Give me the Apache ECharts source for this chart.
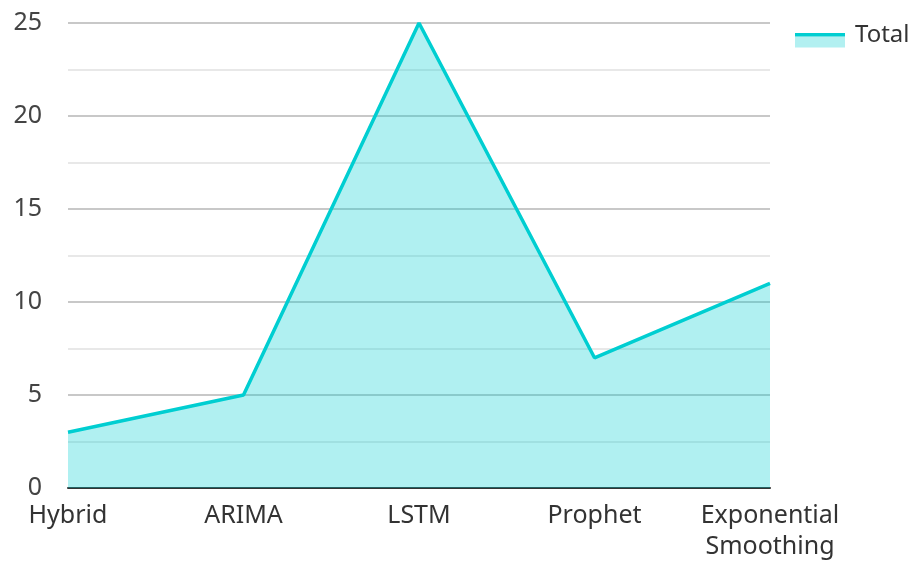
<!DOCTYPE html>
<html>
<head>
<meta charset="utf-8">
<script src="https://cdn.jsdelivr.net/npm/echarts@6/dist/echarts.min.js"></script>
<style>
  html, body { margin: 0; padding: 0; background: #fff; }
  #chart { width: 911px; height: 562px; }
</style>
</head>
<body>
<div id="chart"></div>
<script>
// Forecasting models and their totals
const categories = ['Hybrid', 'ARIMA', 'LSTM', 'Prophet', 'Exponential\nSmoothing'];
const totals = [3, 5, 25, 7, 11];
const seriesName = 'Total';
const yTicks = { min: 0, max: 25, interval: 5 };

const lineColor = '#00CED1';
const fillColor = '#b2f0f1';
const font = '"Noto Sans", "Open Sans", sans-serif';

const chart = echarts.init(document.getElementById('chart'), null, { renderer: 'canvas' });
chart.setOption({
  animation: false,
  textStyle: { fontFamily: font },
  grid: { left: 68, right: 141, top: 23, bottom: 72, containLabel: false },
  legend: {
    data: [{
      name: seriesName,
      icon: 'rect',
      itemStyle: { color: 'rgba(0,0,0,0)' },
      lineStyle: { width: 0, opacity: 0 }
    }],
    left: 790,
    top: 18,
    itemWidth: 50,
    itemHeight: 14,
    itemGap: 10,
    textStyle: { fontSize: 24, color: '#333', fontFamily: font, padding: [0, 0, 0, 5] }
  },
  xAxis: {
    type: 'category',
    data: categories,
    boundaryGap: false,
    axisLine: { lineStyle: { color: '#333', width: 2 } },
    axisTick: { show: false },
    axisLabel: { fontSize: 25, color: '#333', margin: 12, lineHeight: 31, fontFamily: font, interval: 0 }
  },
  yAxis: {
    type: 'value',
    min: yTicks.min,
    max: yTicks.max,
    interval: yTicks.interval,
    axisLine: { show: false },
    axisTick: { show: false },
    axisLabel: { fontSize: 25, color: '#444', margin: 26, fontFamily: font },
    splitLine: { lineStyle: { color: '#c8c8c8', width: 2 } },
    minorTick: { show: false, splitNumber: 2 },
    minorSplitLine: { show: true, lineStyle: { color: '#e8e8e8', width: 2 } }
  },
  series: [{
    name: seriesName,
    type: 'line',
    data: totals,
    symbol: 'none',
    lineStyle: { color: lineColor, width: 3.5 },
    itemStyle: { color: lineColor },
    areaStyle: { color: lineColor, opacity: 0.31 }
  }],
  // legend swatch: filled band with the series line along its top edge
  graphic: [{
    type: 'group',
    left: 795,
    top: 33,
    z: 100,
    children: [
      { type: 'rect', shape: { x: 0, y: 3.5, width: 50, height: 11 }, style: { fill: fillColor } },
      { type: 'rect', shape: { x: 0, y: 0, width: 50, height: 3.5 }, style: { fill: lineColor } }
    ]
  }]
});
</script>
</body>
</html>
